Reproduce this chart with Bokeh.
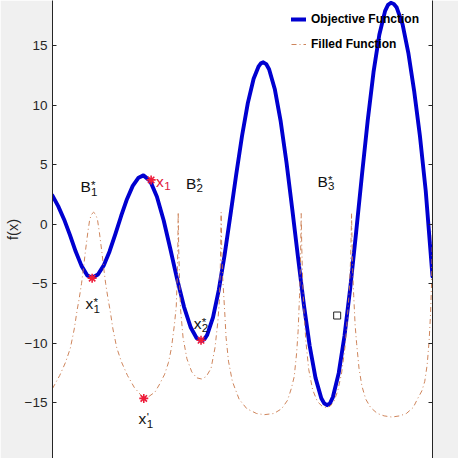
from bokeh.plotting import figure
from bokeh.models import Range1d, LinearAxis, FixedTicker, Legend, LegendItem, ColumnDataSource
from bokeh.core.properties import value
from bokeh.embed import file_html
from bokeh.resources import INLINE

# ---- data ----
obj_x = [0.000, 0.150, 0.300, 0.450, 0.600, 0.750, 0.900, 1.025, 1.175, 1.325, 1.475, 1.625,
         1.775, 1.925, 2.075, 2.225, 2.350, 2.525, 2.700, 2.875, 3.050, 3.225, 3.400, 3.575,
         3.725, 3.850, 3.925, 4.000, 4.150, 4.300, 4.450, 4.600, 4.750, 4.900, 5.050, 5.200,
         5.325, 5.3875, 5.450, 5.525, 5.600, 5.750, 5.900, 6.050, 6.200, 6.350, 6.500, 6.650,
         6.800, 6.950, 7.025, 7.100, 7.175, 7.250, 7.400, 7.550, 7.700, 7.850, 8.000, 8.150,
         8.300, 8.450, 8.600, 8.675, 8.750, 8.825, 8.900, 9.050, 9.200, 9.350, 9.500, 9.650,
         9.825]
obj_y = [2.4, 1.5, 0.4, -0.9, -2.3, -3.5, -4.3, -4.5, -4.23, -3.46, -2.29, -0.83,
         0.69, 2.1, 3.22, 3.91, 4.1, 3.64, 2.31, 0.31, -2.12, -4.65, -6.94, -8.68,
         -9.56, -9.8, -9.67, -9.3, -7.82, -5.52, -2.58, 0.75, 4.18, 7.41, 10.17, 12.22,
         13.23, 13.51, 13.6, 13.45, 13.02, 11.31, 8.63, 5.18, 1.24, -2.85, -6.78, -10.23,
         -12.91, -14.62, -15.05, -15.2, -15.04, -14.52, -12.51, -9.37, -5.31, -0.70, 4.1, 8.71,
         12.77, 15.91, 17.92, 18.43, 18.6, 18.5, 18.2, 16.8, 14.4, 11.2, 7.4, 2.8,
         -4.4]

fill_x = [0.0, 0.1875, 0.3375, 0.4625, 0.5625, 0.6375, 0.6875, 0.75, 0.8, 0.85, 0.9125, 0.9625,
          1.0125, 1.0625, 1.1125, 1.1625, 1.2125, 1.275, 1.325, 1.375, 1.4375, 1.4875, 1.5625,
          1.6625, 1.7875, 1.9375, 2.1125, 2.35, 2.5, 2.65, 2.775, 2.9, 3.0, 3.075, 3.15, 3.2,
          3.225, 3.24, 3.25, 3.2625, 3.2875, 3.3125, 3.375, 3.475, 3.6, 3.725, 3.85, 3.975,
          4.1, 4.2, 4.275, 4.3125, 4.3375, 4.35, 4.36, 4.375, 4.4, 4.45, 4.4875, 4.55, 4.65,
          4.825, 5.025, 5.275, 5.475, 5.725, 5.925, 6.075, 6.175, 6.25, 6.3125, 6.35, 6.3875,
          6.4125, 6.43, 6.445, 6.47, 6.5, 6.55, 6.625, 6.725, 6.85, 6.975, 7.075, 7.175, 7.275,
          7.375, 7.475, 7.5625, 7.625, 7.675, 7.7075, 7.725, 7.7325, 7.745, 7.7625, 7.7875,
          7.825, 7.8625, 7.925, 8.0, 8.1, 8.225, 8.4, 8.575, 8.775, 8.975, 9.15, 9.325, 9.45,
          9.55, 9.625, 9.6875, 9.7375, 9.775, 9.8, 9.8175, 9.825]
fill_y = [-13.8, -12.7, -11.6, -10.4, -8.8, -7.2, -6.3, -5.0, -3.7, -2.3, -0.7, 0.4,
          0.85, 1.0, 0.85, 0.4, -0.7, -2.3, -3.7, -5.0, -6.3, -7.2, -8.8,
          -10.4, -11.6, -12.7, -13.7, -14.6, -14.45, -14.1, -13.4, -12.6, -11.6, -10.4, -8.5, -6.9,
          -4.5, -2.0, 1.0, -2.0, -5.0, -7.2, -9.5, -11.3, -12.4, -12.9, -13.0, -12.8,
          -12.1, -10.4, -8.2, -6.5, -4.0, -1.5, 1.0, -2.0, -4.5, -7.2, -9.5, -11.5, -13.2,
          -14.7, -15.5, -15.9, -16.0, -15.9, -15.5, -14.8, -13.8, -12.8, -10.8, -9.0, -6.0,
          -3.0, 0.9, -2.0, -5.0, -7.2, -9.8, -12.2, -13.9, -14.9, -15.3, -15.4, -15.3, -14.9,
          -14.0, -12.5, -10.3, -7.8, -5.5, -3.0, -0.5, 0.9, -1.5, -4.0, -6.0,
          -8.5, -10.0, -12.1, -13.6, -14.7, -15.4, -15.9, -16.1, -16.2, -16.1, -15.9, -15.4, -14.6,
          -14.0, -13.2, -11.8, -9.8, -7.5, -5.0, -1.5, 0.8]

star_x = [1.025, 2.55, 3.84, 2.36]
star_y = [-4.53, 3.72, -9.75, -14.63]
square_x = [7.36]
square_y = [-7.67]

label_x = [0.725, 0.85, 2.675, 3.45, 3.65, 6.85, 2.225]
label_y = [3.13, -6.7, 3.61, 3.45, -8.3, 3.61, -16.36]
label_base = ["B", "x", "x", "B", "x", "B", "x"]
label_sup = ["*", "*", "", "*", "*", "*", "'"]
label_sub = ["1", "1", "1", "2", "2", "3", "1"]
label_color = ["#111111", "#111111", "#e0203a", "#111111", "#111111", "#111111", "#111111"]

y_ticks = [-15, -10, -5, 0, 5, 10, 15]
legend_labels = ["Objective Function", "Filled Function"]

FONT = "Liberation Sans"
AXC = "#262626"

p = figure(width=458, height=458, output_backend="svg", toolbar_location=None,
           x_range=Range1d(0, 9.825), y_range=Range1d(-19.68, 18.79),
           x_axis_location=None, y_axis_location="left",
           min_border_left=52, min_border_right=26, min_border_top=0, min_border_bottom=0)
p.border_fill_color = "#f0f0f0"
p.background_fill_color = "white"
p.outline_line_color = None
p.grid.visible = False

ya = p.yaxis[0]
ya.ticker = FixedTicker(ticks=y_ticks)
ya.minor_tick_line_color = None
ya.major_tick_in = 4
ya.major_tick_out = 0
ya.major_label_standoff = 5
ya.major_label_text_font = FONT
ya.major_label_text_font_size = "13.5px"
ya.major_label_text_color = AXC
ya.axis_line_color = AXC
ya.major_tick_line_color = AXC
ya.axis_label = "f(x)"
ya.axis_label_text_font = FONT
ya.axis_label_text_font_size = "14.5px"
ya.axis_label_text_font_style = "normal"
ya.axis_label_text_color = AXC
ya.axis_label_standoff = 1

ra = LinearAxis(ticker=FixedTicker(ticks=y_ticks))
ra.minor_tick_line_color = None
ra.major_tick_in = 4
ra.major_tick_out = 0
ra.major_label_text_font_size = "1px"
ra.major_label_text_alpha = 0
ra.axis_line_color = AXC
ra.major_tick_line_color = AXC
p.add_layout(ra, "right")

r_obj = p.line(obj_x, obj_y, line_color="#0000d0", line_width=3.9, line_join="round", line_cap="round")
r_fill = p.line(fill_x, fill_y, line_color="#c9784a", line_width=1, line_dash="5 3 1 3", line_alpha=0.9)

p.scatter(star_x, star_y, marker="asterisk", size=9, line_color="#ee1c3a", line_width=1.6)
p.scatter(square_x, square_y, marker="square", size=7, line_color="#222222", fill_color=None, line_width=1)

offs = {"B": 10.5, "x": 8.2}
src = ColumnDataSource(dict(x=label_x, y=label_y, base=label_base, sup=label_sup, sub=label_sub,
                            color=label_color, off=[offs[b] for b in label_base]))
p.text(x="x", y="y", text="base", source=src, text_color="color", text_font=value(FONT),
       text_font_size="15.5px", text_align="left", text_baseline="alphabetic")
p.text(x="x", y="y", text="sup", source=src, text_color="color", text_font=value(FONT),
       text_font_size="11.6px", text_align="left", text_baseline="alphabetic",
       x_offset="off", y_offset=-2)
p.text(x="x", y="y", text="sub", source=src, text_color="color", text_font=value(FONT),
       text_font_size="11.6px", text_align="left", text_baseline="alphabetic",
       x_offset="off", y_offset=5)

legend = Legend(items=[LegendItem(label=legend_labels[0], renderers=[r_obj]),
                       LegendItem(label=legend_labels[1], renderers=[r_fill])],
                location=(237, 402), orientation="vertical",
                border_line_alpha=0, background_fill_alpha=0,
                label_text_font=FONT, label_text_font_size="12px", label_text_font_style="bold",
                label_text_color="black",
                glyph_width=15, glyph_height=20, label_height=20, label_standoff=5,
                spacing=5, padding=2, margin=0)
p.add_layout(legend)

open("out.html", "w").write(file_html(p, INLINE))
